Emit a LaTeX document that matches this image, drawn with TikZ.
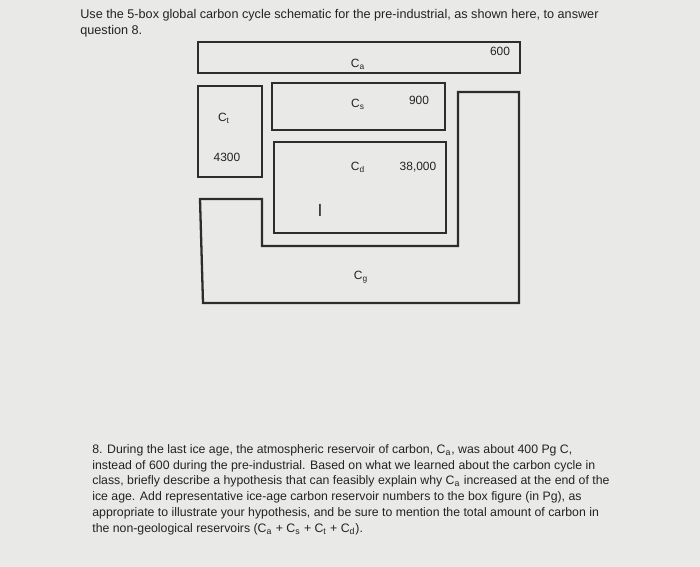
\documentclass[tikz,border=0pt]{standalone}
\usepackage{fontspec}
\setmainfont{Liberation Sans}
\usepackage{tikz}
\usetikzlibrary{positioning}
\definecolor{cpaper}{RGB}{233,233,231}
\definecolor{cink}{RGB}{45,45,45}
\definecolor{ctext}{RGB}{35,35,35}

\begin{document}
\begin{tikzpicture}[x=0.02cm,y=-0.02cm,font=\fontsize{7}{9}\selectfont,text=ctext,
    box/.style={draw=cink,line width=1.3pt},
    lbl/.style={inner sep=0pt,font=\fontsize{6.8}{8}\selectfont},
    par/.style={align=left,anchor=north west,inner sep=0pt}]
  \fill[cpaper] (0,0) rectangle (700,567);
  \useasboundingbox (0,0) rectangle (700,567);
  % heading
  \node[par,font=\fontsize{7.2}{9.2}\selectfont] (head) at (80,9) {Use the 5-box global carbon cycle schematic for the pre-industrial, as shown here, to answer\\question 8.};
  % reservoirs
  \draw[box] (198,42) rectangle (520,73);
  \node[lbl] (ca) at (358,64) {C\textsubscript{a}};
  \node[lbl] (cav) at (500,51) {600};
  \draw[box] (198,86) rectangle (262,177);
  \node[lbl] (ct) at (224,118) {C\textsubscript{t}};
  \node[lbl] (ctv) at (227,157) {4300};
  \draw[box] (272,83) rectangle (445,130);
  \node[lbl] (cs) at (358,104) {C\textsubscript{s}};
  \node[lbl] (csv) at (419,100) {900};
  \draw[box] (274,142) rectangle (446,233);
  \node[lbl] (cd) at (358,167) {C\textsubscript{d}};
  \node[lbl] (cdv) at (418,167) {38,000};
  \draw[box] (200,199) -- (262,199) -- (262,246) -- (458,246) -- (458,92)
    -- (519,92) -- (519,303) -- (203,303) -- cycle;
  \node[lbl] (cg) at (361,277) {C\textsubscript{g}};
  \node[font=\fontsize{10}{10}\rmfamily,inner sep=0pt,text=cink] (cur) at (320,210) {I};
  % question
  \node[par] (q8) at (92,444) {8. During the last ice age, the atmospheric reservoir of carbon, C\textsubscript{a}, was about 400 Pg C,\\
    instead of 600 during the pre-industrial. Based on what we learned about the carbon cycle in\\
    class, briefly describe a hypothesis that can feasibly explain why C\textsubscript{a} increased at the end of the\\
    ice age. Add representative ice-age carbon reservoir numbers to the box figure (in Pg), as\\
    appropriate to illustrate your hypothesis, and be sure to mention the total amount of carbon in\\
    the non-geological reservoirs (C\textsubscript{a} + C\textsubscript{s} + C\textsubscript{t} + C\textsubscript{d}).};
\end{tikzpicture}
\end{document}
